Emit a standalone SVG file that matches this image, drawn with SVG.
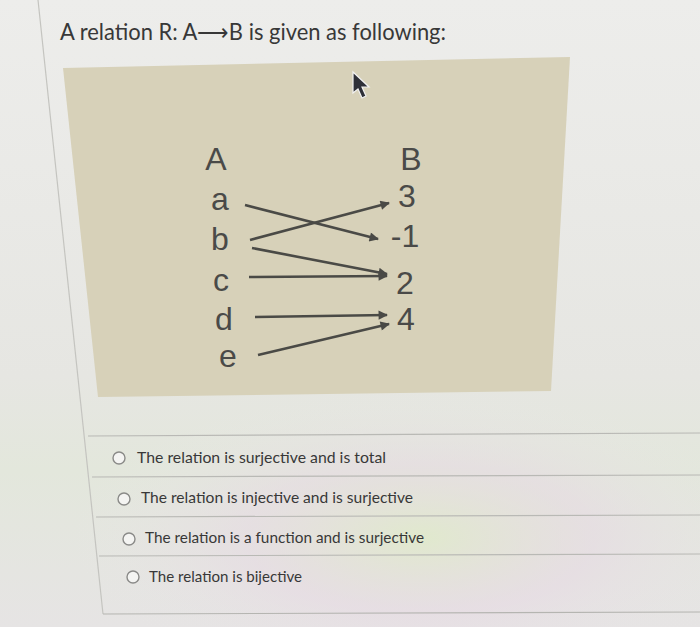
<svg xmlns="http://www.w3.org/2000/svg" width="700" height="627" viewBox="0 0 700 627">
<defs>
<style>
.lbl{font-family:"Liberation Sans",Arial,sans-serif;font-size:32px;fill:#4a4a48;text-anchor:middle}
.ui{font-family:Lato,"Liberation Sans",sans-serif;fill:#383838}
.opt{font-size:16px}
.edge{stroke:#4a4a46;stroke-width:2.6;fill:none;marker-end:url(#ah)}
.radio{fill:#f4f4f2;stroke:#8a8a88;stroke-width:1.4}
.sep{stroke:#b9b9b5;stroke-width:1.2}
</style>
<marker id="ah" viewBox="0 0 10 10" refX="9" refY="5" markerWidth="4" markerHeight="3.6" orient="auto" markerUnits="strokeWidth">
<path d="M0,0 L10,5 L0,10 Z" fill="#4a4a46"/>
</marker>
<linearGradient id="bg" x1="0" y1="0" x2="0" y2="1">
<stop offset="0" stop-color="#ededeb"/>
<stop offset="0.6" stop-color="#e6e6e2"/>
<stop offset="0.75" stop-color="#e3e7dc"/>
<stop offset="1" stop-color="#e6e4e4"/>
</linearGradient>
<radialGradient id="moire" cx="0.6" cy="0.7" r="0.5">
<stop offset="0" stop-color="#dfeac8" stop-opacity="0.8"/>
<stop offset="0.5" stop-color="#e7d8e4" stop-opacity="0.5"/>
<stop offset="1" stop-color="#e8e8e6" stop-opacity="0"/>
</radialGradient>
</defs>
<rect width="700" height="627" fill="url(#bg)"/>
<rect x="0" y="330" width="700" height="297" fill="url(#moire)"/>
<g id="page">
<line x1="38" y1="0" x2="103" y2="614" stroke="#c4c4c0" stroke-width="1.2"/>
<line x1="103" y1="614" x2="700" y2="612" stroke="#b5b5b1" stroke-width="1.2"/>
<line class="sep" x1="88" y1="436" x2="700" y2="433"/>
<line class="sep" x1="92" y1="477" x2="700" y2="475"/>
<line class="sep" x1="96" y1="517" x2="700" y2="515"/>
<line class="sep" x1="99" y1="556" x2="700" y2="554"/>
</g>
<g id="title">
<text class="ui" x="60" y="40" font-size="23" textLength="386" lengthAdjust="spacingAndGlyphs">A relation R: A⟶B is given as following:</text>
</g>
<g id="figure">
<polygon points="63,68 570,57 551,391 98,397" fill="#d7d1b9"/>
<path d="M353,72 L353,93 L358,89 L362,98 L366,96 L362,87 L369,87 Z" fill="#2e3038" stroke="#f2f2f2" stroke-width="1.2"/>
</g>
<g id="set-A">
<text class="lbl" x="216" y="170">A</text>
<text id="a" class="lbl" x="220" y="210">a</text>
<text id="b" class="lbl" x="220" y="250">b</text>
<text id="c" class="lbl" x="221" y="291">c</text>
<text id="d" class="lbl" x="224" y="330">d</text>
<text id="e" class="lbl" x="228" y="367">e</text>
</g>
<g id="set-B">
<text class="lbl" x="411" y="170">B</text>
<text id="n3" class="lbl" x="407" y="207">3</text>
<text id="nm1" class="lbl" x="405" y="247">-1</text>
<text id="n2" class="lbl" x="405" y="294">2</text>
<text id="n4" class="lbl" x="406" y="330">4</text>
</g>
<g id="connectors">
<line class="edge" x1="245" y1="205" x2="378" y2="239"/>
<line class="edge" x1="250" y1="240" x2="389" y2="203"/>
<line class="edge" x1="252" y1="248" x2="387" y2="274"/>
<line class="edge" x1="249" y1="277" x2="387" y2="276"/>
<line class="edge" x1="255" y1="317" x2="387" y2="315"/>
<line class="edge" x1="258" y1="355" x2="389" y2="324"/>
</g>
<g id="opt1"><circle class="radio" cx="119" cy="458" r="6"/><text class="ui opt" x="137" y="463" textLength="249" lengthAdjust="spacingAndGlyphs">The relation is surjective and is total</text></g>
<g id="opt2"><circle class="radio" cx="124" cy="499" r="6"/><text class="ui opt" x="141" y="503" textLength="272" lengthAdjust="spacingAndGlyphs">The relation is injective and is surjective</text></g>
<g id="opt3"><circle class="radio" cx="129" cy="539" r="6"/><text class="ui opt" x="145" y="543" textLength="279" lengthAdjust="spacingAndGlyphs">The relation is a function and is surjective</text></g>
<g id="opt4"><circle class="radio" cx="133" cy="577" r="6"/><text class="ui opt" x="149" y="582" textLength="153" lengthAdjust="spacingAndGlyphs">The relation is bijective</text></g>
</svg>
